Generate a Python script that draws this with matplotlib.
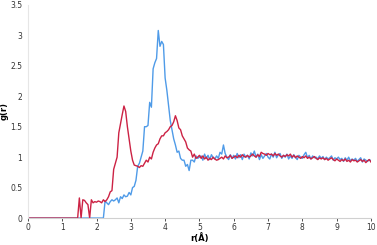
import numpy as np
import matplotlib
matplotlib.use("Agg")
import matplotlib.pyplot as plt

# r grid (Å), step 0.05
r = np.round(np.arange(0, 10.0001, 0.05), 2)

red_head = [0.0] * 30 + [
    0.33, 0.0, 0.3, 0.29, 0.25, 0.22, 0.0, 0.3, 0.25, 0.27,
    0.26, 0.28, 0.27, 0.25, 0.3, 0.27, 0.3, 0.35, 0.43, 0.45,
    0.8, 0.9, 1.0, 1.4, 1.55, 1.7, 1.84, 1.75, 1.5, 1.3,
    1.1, 0.95, 0.87, 0.86, 0.85, 0.83, 0.86, 0.85, 0.9, 0.95,
    0.92, 1.0, 0.97, 1.08, 1.15, 1.2, 1.22, 1.3, 1.35, 1.35,
    1.4, 1.42, 1.45, 1.5, 1.52, 1.58, 1.68, 1.6, 1.48, 1.45,
    1.35, 1.3, 1.25, 1.15, 1.12, 1.1, 1.0, 1.05, 0.98, 1.0, 1.03]
red_tail = [
    0.98, 1.02, 0.97, 1.0, 0.95, 0.98, 0.96, 1.0, 0.97, 0.95,
    0.96, 0.98, 1.0, 0.97, 1.02, 0.99, 1.0, 1.03, 0.98, 1.0,
    1.02, 0.99, 1.03, 1.0, 1.04, 1.01, 1.0, 1.03, 1.0, 1.02,
    1.05, 1.02, 1.0, 1.04, 1.01, 1.08, 1.06, 1.05, 1.03, 1.06,
    1.04, 1.05, 1.02, 1.06, 1.03, 1.05, 1.02, 1.0, 1.03, 1.01,
    1.04, 1.02, 1.05, 1.0, 1.03, 0.99, 1.02, 1.0, 0.98, 1.01,
    0.99, 1.02, 0.98, 1.0, 0.97, 0.99, 1.01, 0.98, 0.96, 0.99,
    0.97, 0.99, 0.96, 0.98, 0.95, 0.97, 0.99, 0.96, 0.94, 0.97,
    0.95, 0.93, 0.96, 0.94, 0.97, 0.93, 0.95, 0.92, 0.96, 0.94,
    0.95, 0.92, 0.94, 0.96, 0.93, 0.95, 0.91, 0.94, 0.96, 0.92]

blue_head = [0.0] * 45 + [
    0.28, 0.25, 0.22, 0.27, 0.3, 0.28, 0.3, 0.33, 0.25, 0.35,
    0.32, 0.38, 0.35, 0.36, 0.42, 0.38, 0.5, 0.52, 0.62, 0.85,
    0.9, 1.0, 1.1, 1.5, 1.5, 1.52, 1.9, 1.82, 2.45, 2.55,
    2.62, 3.08, 2.82, 2.9, 2.85, 2.3, 2.1, 1.85, 1.6, 1.45,
    1.3, 1.2, 1.08, 1.1, 0.98, 0.95, 0.95, 0.85, 0.88, 0.78,
    0.95, 0.95, 0.92, 1.02, 0.98, 1.0]
blue_tail = [
    1.02, 0.95, 1.05, 0.98, 1.03, 0.96, 1.04, 0.99, 0.97, 1.02,
    0.98, 1.08, 1.05, 1.2, 1.06, 1.0, 0.96, 1.04, 0.98, 1.03,
    0.97, 1.06, 0.99, 1.04, 0.96, 1.05, 1.0, 1.03, 0.97, 1.07,
    1.02, 1.1, 1.0, 1.05, 0.96, 1.04, 0.98, 1.02, 1.06, 1.0,
    0.97, 1.05, 1.0, 1.08, 0.99, 1.04, 1.06, 0.98, 1.03, 1.0,
    1.05, 0.97, 1.02, 0.98, 1.04, 1.0, 0.96, 1.03, 1.0, 0.98,
    1.04, 1.08, 0.99, 1.03, 0.97, 1.02, 0.99, 1.0, 0.97, 1.02,
    0.98, 1.01, 0.96, 1.0, 0.97, 0.99, 1.02, 0.95, 0.99, 0.97,
    1.0, 0.96, 0.98, 0.93, 0.99, 0.95, 1.0, 0.94, 0.97, 0.95,
    0.98, 0.93, 0.96, 0.99, 0.92, 0.97, 0.95, 0.93, 0.96, 0.94]

g_red = np.array(red_head + red_tail)
g_blue = np.array(blue_head + blue_tail)

xticks = list(range(0, 11))
yticks = [0, 0.5, 1, 1.5, 2, 2.5, 3, 3.5]
yticklabels = ["0", "0.5", "1", "1.5", "2", "2.5", "3", "3.5"]

fig = plt.figure(figsize=(3.77, 2.45), dpi=100)
ax = fig.add_axes([0.074, 0.11, 0.91, 0.87])
ax.plot(r, g_blue, color="#4f9be8", lw=1.0)
ax.plot(r, g_red, color="#cc2244", lw=1.0)

ax.set_xlim(0, 10)
ax.set_ylim(0, 3.5)
ax.set_xticks(xticks)
ax.set_yticks(yticks)
ax.set_yticklabels(yticklabels)
ax.tick_params(axis="both", labelsize=5.5, colors="#333333", length=2, width=0.6, pad=1.5)
ax.tick_params(axis="y", length=0, pad=4)
for s in ["top", "right"]:
    ax.spines[s].set_visible(False)
ax.spines["left"].set_color("#e6e6e6")
ax.spines["bottom"].set_color("#d0d0d0")
ax.spines["left"].set_linewidth(0.8)
ax.spines["bottom"].set_linewidth(0.8)
ax.set_xlabel("r(Å)", fontsize=6, fontweight="bold", labelpad=1)
ax.set_ylabel("g(r)", fontsize=6, fontweight="bold", labelpad=1)

fig.savefig("out.png", dpi=100)
